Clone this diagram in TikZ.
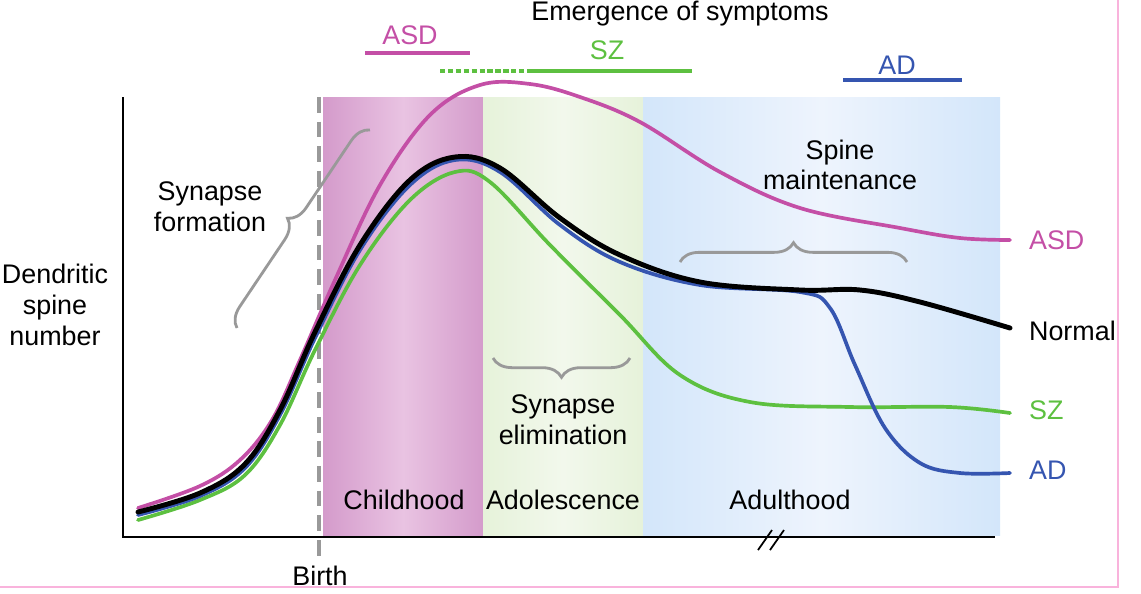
\documentclass[tikz,border=0pt]{standalone}
\usepackage{fontspec}
\setmainfont{Liberation Sans}
\usetikzlibrary{decorations.pathreplacing}
\definecolor{asd}{HTML}{C44FA6}
\definecolor{sz}{HTML}{5DC040}
\definecolor{ad}{HTML}{3555B0}
\definecolor{gr}{HTML}{999999}
\definecolor{chE}{HTML}{D49BCB}
\definecolor{chM}{HTML}{E9C3E2}
\definecolor{adE}{HTML}{E6F2DA}
\definecolor{adM}{HTML}{F2F8EC}
\definecolor{ulE}{HTML}{D3E6FA}
\definecolor{ulM}{HTML}{EEF4FD}
\begin{document}
\begin{tikzpicture}[x=0.02cm,y=-0.02cm,
  lab/.style={font=\fontsize{15.3}{17.5}\selectfont,align=center,inner sep=1pt},
  curve/.style={line width=2.1pt,line cap=round},
  br/.style={draw=gr,line width=1.6pt,decorate,decoration={brace,amplitude=11pt}}]
\useasboundingbox (0,0) rectangle (1141,593);
% bands
\shade[left color=chE,right color=chE,middle color=chM] (323,97) rectangle (483,535);
\shade[left color=adE,right color=adE,middle color=adM] (483,97) rectangle (643,535);
\shade[left color=ulE,right color=ulE,middle color=ulM] (643,97) rectangle (1000,535);
\node[lab] (child) at (404,500) {Childhood};
\node[lab] (adol) at (563,500) {Adolescence};
\node[lab] (adult) at (790,500) {Adulthood};
% axes
\coordinate (ytop) at (123,97); \coordinate (orig) at (123,537); \coordinate (xend) at (995,537);
\draw[line width=1pt] (ytop) -- (orig) -- (xend);
\draw[line width=1pt] (758,550) -- (772,530) (770,550) -- (784,530);
\coordinate (b1) at (319,97); \coordinate (b2) at (319,557);
\draw[gr,line width=2pt,dash pattern=on 9pt off 5pt] (b1) -- (b2);
\node[lab] (birth) at (320,576) {Birth};
\node[lab] (dsn) at (55,305) {Dendritic\\spine\\number};
% top
\node[lab] (emerg) at (680,14) {Emergence of symptoms};
\node[lab,text=asd] (tasd) at (410,35) {ASD};
\coordinate (a1) at (365,53); \coordinate (a2) at (470,53);
\draw[asd,line width=2pt] (a1) -- (a2);
\node[lab,text=sz] (tsz) at (607,50) {SZ};
\coordinate (s0) at (440,71); \coordinate (s1) at (528,71); \coordinate (s2) at (692,71);
\draw[sz,line width=2pt,dash pattern=on 3pt off 1.5pt] (s0) -- (s1);
\draw[sz,line width=2pt] (s1) -- (s2);
\node[lab,text=ad] (tad) at (897,65) {AD};
\coordinate (d1) at (843,80); \coordinate (d2) at (962,80);
\draw[ad,line width=2pt] (d1) -- (d2);
% curves
\draw[curve,asd] plot[smooth,tension=0.6] coordinates {(138,508) (200,486) (240,460) (272,420) (300,360) (335,280) (380,185) (430,115) (480,85) (530,84) (580,97) (640,122) (720,172) (800,208) (900,228) (960,238) (1010,240)};
\draw[curve,sz] plot[smooth,tension=0.6] coordinates {(138,520) (200,500) (245,475) (280,425) (315,350) (360,265) (410,200) (455,172) (490,182) (550,245) (620,315) (680,375) (750,402) (850,407) (950,407) (1010,413)};
\draw[curve,ad] plot[smooth,tension=0.6] coordinates {(138,515) (200,496) (245,468) (280,415) (315,338) (360,250) (410,185) (455,160) (500,172) (560,225) (620,262) (700,285) (800,292) (830,308) (855,365) (885,428) (920,463) (960,473) (1010,473)};
\draw[curve,black,line width=2.8pt] plot[smooth,tension=0.6] coordinates {(138,512) (200,493) (245,464) (280,410) (315,332) (360,245) (410,180) (455,157) (500,168) (560,218) (620,255) (700,282) (800,290) (860,290) (920,302) (1010,328)};
\node[lab,text=asd,anchor=west] (lasd) at (1027,240) {ASD};
\node[lab,anchor=west] (lnorm) at (1027,331) {Normal};
\node[lab,text=sz,anchor=west] (lsz) at (1027,410) {SZ};
\node[lab,text=ad,anchor=west] (lad) at (1027,470) {AD};
% braces
\coordinate (f1) at (237,328); \coordinate (f2) at (370,130);
\draw[br] (f1) -- (f2);
\node[lab] (form) at (210,207) {Synapse\\formation};
\coordinate (e1) at (630,358); \coordinate (e2) at (493,358);
\draw[br] (e1) -- (e2);
\node[lab] (elim) at (563,420) {Synapse\\elimination};
\coordinate (m1) at (680,262); \coordinate (m2) at (907,262);
\draw[br] (m1) -- (m2);
\node[lab] (maint) at (840,165) {Spine\\maintenance};
% frame
\draw[magenta!30,line width=0.6pt] (1118,0) -- (1118,587) -- (0,587);
\end{tikzpicture}
\end{document}
